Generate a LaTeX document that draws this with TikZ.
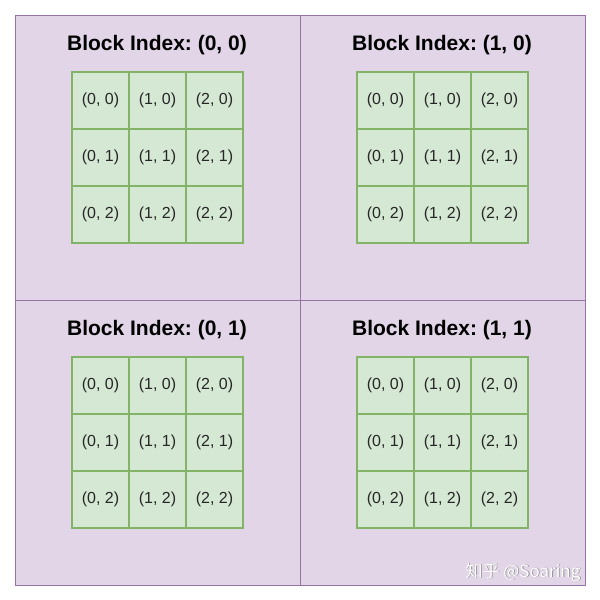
\documentclass[tikz,border=0pt]{standalone}
\usepackage{fontspec}
\setmainfont{Liberation Sans}
\newfontfamily\cjkfont{Noto Sans CJK SC}
\definecolor{blockfill}{HTML}{E1D5E7}
\definecolor{blockline}{HTML}{9673A6}
\definecolor{cellfill}{HTML}{D5E8D4}
\definecolor{cellline}{HTML}{82B366}
\frenchspacing

\begin{document}
\begin{tikzpicture}[x=1pt,y=1pt]
    \tikzset{
      block/.style={draw=blockline, fill=blockfill, line width=1.4pt, minimum size=285pt, inner sep=0pt, anchor=north west},
      cell/.style={draw=cellline, fill=cellfill, line width=1.3pt, minimum size=57pt, inner sep=0pt, font=\fontsize{16}{19}\selectfont, text=black!85},
      title/.style={font=\bfseries\fontsize{21}{25}\selectfont, text=black}
    }
    \useasboundingbox (0,0) rectangle (600,-600);
    % the four blocks
    \node [block] (b00) at (15,-15) {};
    \node [block] (b10) at (300,-15) {};
    \node [block] (b01) at (15,-300) {};
    \node [block] (b11) at (300,-300) {};
    \node [title] (t00) at (157,-45.5) {Block Index: (0, 0)};
    \node [title] (t10) at (442,-45.5) {Block Index: (1, 0)};
    \node [title] (t01) at (157,-330.5) {Block Index: (0, 1)};
    \node [title] (t11) at (442,-330.5) {Block Index: (1, 1)};
    % threads of every block
    \foreach \bx in {0,1} {
      \foreach \by in {0,1} {
        \foreach \i in {0,1,2} {
          \foreach \j in {0,1,2} {
            \node [cell] (c\bx\by-\i\j) at (100.5+285*\bx+57*\i, -100.5-285*\by-57*\j) {(\i, \j)};
          }
        }
      }
    }
    % watermark
    \node [text=black!45, font=\cjkfont\fontsize{17}{20}\selectfont] (shade) at (523.8,-572.8) {知乎 @Soaring};
    \node [text=white, font=\cjkfont\fontsize{17}{20}\selectfont] (mark) at (523,-572) {知乎 @Soaring};
\end{tikzpicture}
\end{document}
